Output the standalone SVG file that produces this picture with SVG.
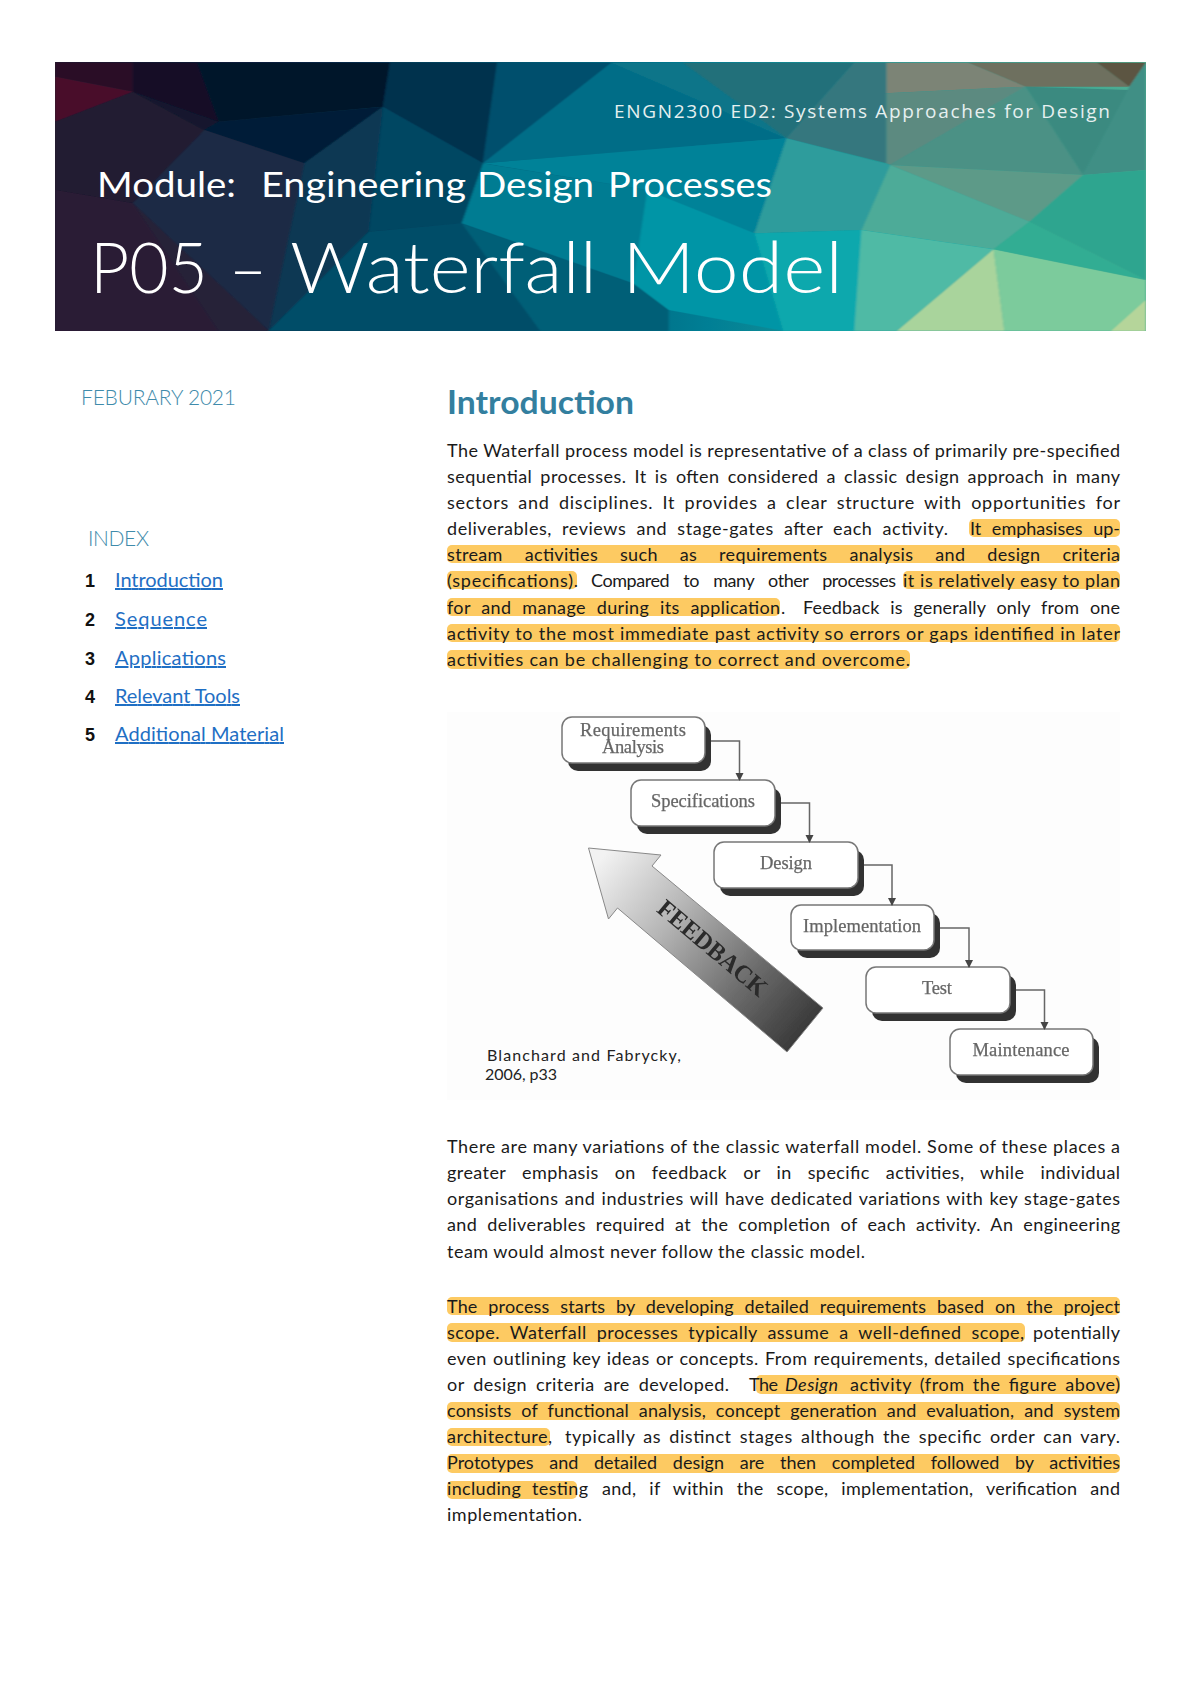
<svg xmlns="http://www.w3.org/2000/svg" width="1200" height="1696" viewBox="0 0 1200 1696">
<style>
.b{font-family:"Lato","Open Sans",sans-serif;font-size:18px;fill:#1a1a1a}
.ti{font-style:italic}
.h{fill:#fdca62}
.lk{font-family:"Lato","Open Sans",sans-serif;font-size:20px;fill:#1f6fc4;text-decoration:underline}
.n{font-family:"Liberation Sans",sans-serif;font-size:18px;font-weight:bold;fill:#111}
.m{font-family:"Liberation Serif",serif;font-size:18.5px;fill:#666;stroke:#666;stroke-width:.25}
.bx{fill:#fff;stroke:#777;stroke-width:1.5}
.sh{fill:#333}
.c{fill:none;stroke:#666;stroke-width:1.5;marker-end:url(#ah)}
.cap{font-family:"Lato","Open Sans",sans-serif;font-size:16px;fill:#222}
.t1{font-family:Lato,sans-serif;font-size:35px;fill:#fff}
.t2{font-family:Lato,sans-serif;font-weight:300;font-size:71px;fill:#fff}
.sd{font-family:Lato,sans-serif;font-weight:300;font-size:21px;fill:#3f8bab}
</style>
<defs>
<clipPath id="bc"><rect x="55" y="62" width="1091" height="269"/></clipPath>
<filter id="soft" x="-2%" y="-2%" width="104%" height="104%"><feGaussianBlur stdDeviation="1.5"/></filter>
<filter id="soft2" x="-2%" y="-2%" width="104%" height="104%"><feGaussianBlur stdDeviation=".45"/></filter>
<linearGradient id="bg" x1="0" y1="0" x2="1" y2="0"><stop offset="0" stop-color="#241a30"/><stop offset=".2" stop-color="#0c2740"/><stop offset=".4" stop-color="#00506c"/><stop offset=".6" stop-color="#007f95"/><stop offset=".75" stop-color="#1f9a98"/><stop offset="1" stop-color="#4fae92"/></linearGradient>
<linearGradient id="fb" gradientUnits="userSpaceOnUse" x1="600" y1="860" x2="805" y2="1030"><stop offset="0" stop-color="#f2f2f2"/><stop offset=".35" stop-color="#b5b5b5"/><stop offset=".7" stop-color="#6e6e6e"/><stop offset="1" stop-color="#3a3a3a"/></linearGradient>
<marker id="ah" markerWidth="8" markerHeight="9" refX="7" refY="4.5" orient="auto" markerUnits="userSpaceOnUse"><path d="M0,0.5 L8,4.5 L0,8.5 Z" fill="#444"/></marker>
</defs>
<rect width="1200" height="1696" fill="#fff"/>
<g id="banner" clip-path="url(#bc)">
<rect x="55" y="62" width="1091" height="269" fill="url(#bg)"/>
<g filter="url(#soft)" transform="translate(40,50) scale(.7143,.3333)">
<polygon points="21,38 130,38 130,125 21,80" fill="#2a1028"/>
<polygon points="21,80 130,125 21,215" fill="#4a0c2c"/>
<polygon points="130,38 220,38 250,215 130,125" fill="#140f25"/>
<polygon points="220,38 490,38 480,170 250,215" fill="#03162c"/>
<polygon points="21,215 130,125 230,240 130,460 21,420" fill="#201a30"/>
<polygon points="130,125 250,215 230,240" fill="#12162e"/>
<polygon points="250,215 480,170 370,340 230,240" fill="#041f38"/>
<polygon points="490,38 640,38 620,340 480,170" fill="#02324e"/>
<polygon points="640,38 800,38 620,340" fill="#004f6d"/>
<polygon points="800,38 1045,265 620,340" fill="#066d87"/>
<polygon points="800,38 900,38 1045,265" fill="#0b7489"/>
<polygon points="900,38 1140,38 1045,265" fill="#20707a"/>
<polygon points="1140,38 1185,38 1185,340 1045,265" fill="#35777e"/>
<polygon points="1185,38 1300,38 1380,110 1185,130" fill="#7b8476"/>
<polygon points="1300,38 1480,38 1525,110 1380,110" fill="#6e6f5e"/>
<polygon points="1480,38 1548,38 1525,110" fill="#5c5442"/>
<polygon points="1185,130 1380,110 1190,345 1185,340" fill="#5b8a80"/>
<polygon points="1380,110 1460,375 1190,345" fill="#4b9185"/>
<polygon points="1380,110 1525,120 1460,375" fill="#3a8a80"/>
<polygon points="1525,110 1548,38 1548,360 1460,375" fill="#3f8f85"/>
<polygon points="1190,345 1460,375 1385,515" fill="#5d9a88"/>
<polygon points="1460,375 1548,360 1548,690 1385,515" fill="#2fa58f"/>
<polygon points="1190,345 1385,515 1335,598 1150,540" fill="#4eab98"/>
<polygon points="1045,265 1190,345 1150,540 1000,550" fill="#2e9c9c"/>
<polygon points="1000,550 1150,540 1335,598 1140,842 1040,842" fill="#0aa8ad"/>
<polygon points="1150,540 1335,598 1200,842 1140,842" fill="#4fbaa5"/>
<polygon points="1335,598 1548,690 1548,842 1350,842" fill="#7bcb9c"/>
<polygon points="1335,598 1350,842 1200,842" fill="#a9d49c"/>
<polygon points="1548,750 1548,842 1500,842" fill="#b5d59a"/>
<polygon points="1385,515 1548,690 1335,598" fill="#33ad93"/>
<polygon points="620,340 1045,265 1000,550 850,420" fill="#008298"/>
<polygon points="620,340 850,420 830,700 590,520" fill="#007c92"/>
<polygon points="850,420 1000,550 1040,842 880,780 830,700" fill="#0195a6"/>
<polygon points="590,520 830,700 880,780 880,842 700,842" fill="#005e77"/>
<polygon points="480,170 620,340 590,520 460,545" fill="#004662"/>
<polygon points="370,340 480,170 460,545 320,842" fill="#0a3753"/>
<polygon points="230,240 370,340 320,842 130,460" fill="#1c2a45"/>
<polygon points="21,420 130,460 250,842 21,842" fill="#2b1c36"/>
<polygon points="130,460 320,842 250,842" fill="#262038"/>
<polygon points="460,545 590,520 700,842 320,842" fill="#064d68"/>
</g>
<text x="614" y="118" textLength="496" font-family="'Open Sans',sans-serif" font-size="19" fill="#e6f0f0">ENGN2300 ED2: Systems Approaches for Design</text>
<text class="t1" x="97" y="197" textLength="139" lengthAdjust="spacingAndGlyphs">Module:</text>
<text class="t1" x="261" y="197" textLength="205" lengthAdjust="spacingAndGlyphs">Engineering</text>
<text class="t1" x="477" y="197" textLength="117" lengthAdjust="spacingAndGlyphs">Design</text>
<text class="t1" x="608" y="197" textLength="164" lengthAdjust="spacingAndGlyphs">Processes</text>
<text class="t2" x="90" y="293" textLength="118" lengthAdjust="spacingAndGlyphs">P05</text>
<text class="t2" x="229" y="293" textLength="38" lengthAdjust="spacingAndGlyphs">–</text>
<text class="t2" x="290" y="293" textLength="307" lengthAdjust="spacingAndGlyphs">Waterfall</text>
<text class="t2" x="622" y="293" textLength="221" lengthAdjust="spacingAndGlyphs">Model</text>
</g>

<g id="sidebar">
<text class="sd" x="81" y="405" textLength="155">FEBURARY 2021</text>
<text class="sd" x="88" y="546" textLength="61">INDEX</text>
<text class="n" x="85" y="587">1</text><text class="lk" x="115" y="587" textLength="108">Introduction</text>
<text class="n" x="85" y="626">2</text><text class="lk" x="115" y="626" textLength="92">Sequence</text>
<text class="n" x="85" y="665">3</text><text class="lk" x="115" y="665" textLength="111">Applications</text>
<text class="n" x="85" y="703">4</text><text class="lk" x="115" y="703" textLength="125">Relevant Tools</text>
<text class="n" x="85" y="741">5</text><text class="lk" x="115" y="741" textLength="169">Additional Material</text>
</g>

<text id="heading" x="447" y="414" textLength="187" lengthAdjust="spacingAndGlyphs" font-family="Lato,sans-serif" font-weight="bold" font-size="32" fill="#337f9f">Introduction</text>

<g id="highlights">
<rect class="h" x="969" y="519" width="151" height="18" rx="5"/>
<rect class="h" x="447" y="545" width="673" height="18" rx="5"/>
<rect class="h" x="447" y="571" width="130" height="18" rx="5"/>
<rect class="h" x="903" y="571" width="217" height="18" rx="5"/>
<rect class="h" x="447" y="598" width="333" height="18" rx="5"/>
<rect class="h" x="447" y="624" width="673" height="18" rx="5"/>
<rect class="h" x="447" y="650" width="463" height="19" rx="5"/>
<rect class="h" x="447" y="1297" width="673" height="18" rx="5"/>
<rect class="h" x="447" y="1323" width="578" height="19" rx="5"/>
<rect class="h" x="756" y="1375" width="364" height="19" rx="5"/>
<rect class="h" x="447" y="1402" width="673" height="18" rx="5"/>
<rect class="h" x="447" y="1428" width="103" height="18" rx="5"/>
<rect class="h" x="447" y="1454" width="673" height="19" rx="5"/>
<rect class="h" x="447" y="1481" width="130" height="18" rx="5"/>
</g>

<g id="para1">
<text class="b" x="447" y="457" textLength="673">The Waterfall process model is representative of a class of primarily pre-specified</text>
<text class="b" x="447" y="483" textLength="673" word-spacing="3">sequential processes. It is often considered a classic design approach in many</text>
<text class="b" x="447" y="509" textLength="673" word-spacing="4">sectors and disciplines. It provides a clear structure with opportunities for</text>
<text class="b" x="447" y="535" textLength="501" word-spacing="5">deliverables, reviews and stage-gates after each activity.</text>
<text class="b" x="970" y="535" textLength="150" word-spacing="6">It emphasises up-</text>
<text class="b" x="447" y="561" textLength="673" word-spacing="17">stream activities such as requirements analysis and design criteria</text>
<text class="b" x="447" y="587" textLength="131">(specifications).</text>
<text class="b" x="591" y="587" textLength="305" word-spacing="10">Compared to many other processes</text>
<text class="b" x="903" y="587" textLength="217">it is relatively easy to plan</text>
<text class="b" x="447" y="614" textLength="333" word-spacing="6">for and manage during its application</text>
<text class="b" x="781" y="614">.</text>
<text class="b" x="803" y="614" textLength="317" word-spacing="6">Feedback is generally only from one</text>
<text class="b" x="447" y="640" textLength="673">activity to the most immediate past activity so errors or gaps identified in later</text>
<text class="b" x="447" y="666" textLength="463">activities can be challenging to correct and overcome.</text>
</g>

<g id="figure">
<rect x="447" y="712" width="673" height="388" fill="#fdfdfd"/>
<g filter="url(#soft2)">
<g id="n-req"><rect class="sh" x="568" y="725" width="143" height="46" rx="10"/><rect class="bx" x="562" y="717" width="143" height="46" rx="10"/><text class="m" x="633" y="736" text-anchor="middle" textLength="106">Requirements</text><text class="m" x="633" y="753" text-anchor="middle" textLength="62">Analysis</text></g>
<g id="n-spec"><rect class="sh" x="637" y="788" width="144" height="46" rx="10"/><rect class="bx" x="631" y="780" width="144" height="46" rx="10"/><text class="m" x="703" y="807" text-anchor="middle" textLength="104">Specifications</text></g>
<g id="n-design"><rect class="sh" x="720" y="850" width="144" height="46" rx="10"/><rect class="bx" x="714" y="842" width="144" height="46" rx="10"/><text class="m" x="786" y="869" text-anchor="middle" textLength="52">Design</text></g>
<g id="n-impl"><rect class="sh" x="797" y="913" width="143" height="45" rx="10"/><rect class="bx" x="791" y="905" width="143" height="45" rx="10"/><text class="m" x="862" y="932" text-anchor="middle" textLength="118">Implementation</text></g>
<g id="n-test"><rect class="sh" x="872" y="975" width="144" height="46" rx="10"/><rect class="bx" x="866" y="967" width="144" height="46" rx="10"/><text class="m" x="937" y="994" text-anchor="middle" textLength="30">Test</text></g>
<g id="n-maint"><rect class="sh" x="956" y="1037" width="143" height="46" rx="10"/><rect class="bx" x="950" y="1029" width="143" height="46" rx="10"/><text class="m" x="1021" y="1056" text-anchor="middle" textLength="97">Maintenance</text></g>
<g id="connectors">
<path class="c" d="M711,741H739.500V780"/>
<path class="c" d="M781,803H809.500V842"/>
<path class="c" d="M864,865H892V905"/>
<path class="c" d="M940,928H969V967"/>
<path class="c" d="M1016,990H1044.500V1029"/>
</g>
<g id="feedback">
<polygon points="588.500,848 661,855 652,866 823,1008 787,1052 617.500,908 608.500,919" fill="url(#fb)" stroke="#888" stroke-width="1"/>
<text transform="translate(711,950) rotate(40)" text-anchor="middle" dominant-baseline="middle" font-family="'Liberation Serif',serif" font-weight="bold" font-size="25" fill="#2a2a2a" textLength="135" lengthAdjust="spacingAndGlyphs">FEEDBACK</text>
</g>
</g>
<text class="cap" x="487" y="1061" textLength="194">Blanchard and Fabrycky,</text>
<text class="cap" x="485" y="1080" textLength="72">2006, p33</text>
</g>

<g id="para2">
<text class="b" x="447" y="1153" textLength="673">There are many variations of the classic waterfall model. Some of these places a</text>
<text class="b" x="447" y="1179" textLength="673" word-spacing="11">greater emphasis on feedback or in specific activities, while individual</text>
<text class="b" x="447" y="1205" textLength="673" word-spacing="1">organisations and industries will have dedicated variations with key stage-gates</text>
<text class="b" x="447" y="1231" textLength="673" word-spacing="5">and deliverables required at the completion of each activity. An engineering</text>
<text class="b" x="447" y="1258" textLength="418">team would almost never follow the classic model.</text>
</g>

<g id="para3">
<text class="b" x="447" y="1313" textLength="673" word-spacing="6">The process starts by developing detailed requirements based on the project</text>
<text class="b" x="447" y="1339" textLength="577" word-spacing="5">scope. Waterfall processes typically assume a well-defined scope,</text>
<text class="b" x="1033" y="1339" textLength="87">potentially</text>
<text class="b" x="447" y="1365" textLength="673" word-spacing="1">even outlining key ideas or concepts. From requirements, detailed specifications</text>
<text class="b" x="447" y="1391" textLength="282" word-spacing="4">or design criteria are developed.</text>
<text class="b" x="749" y="1391" textLength="29">The</text>
<text class="b ti" x="785" y="1391" textLength="53">Design</text>
<text class="b" x="850" y="1391" textLength="270" word-spacing="3">activity (from the figure above)</text>
<text class="b" x="447" y="1417" textLength="673" word-spacing="5">consists of functional analysis, concept generation and evaluation, and system</text>
<text class="b" x="447" y="1443" textLength="105">architecture,</text>
<text class="b" x="565" y="1443" textLength="555" word-spacing="3">typically as distinct stages although the specific order can vary.</text>
<text class="b" x="447" y="1469" textLength="673" word-spacing="11">Prototypes and detailed design are then completed followed by activities</text>
<text class="b" x="447" y="1495" textLength="141" word-spacing="6">including testing</text>
<text class="b" x="602" y="1495" textLength="518" word-spacing="8">and, if within the scope, implementation, verification and</text>
<text class="b" x="447" y="1521" textLength="135">implementation.</text>
</g>
</svg>
